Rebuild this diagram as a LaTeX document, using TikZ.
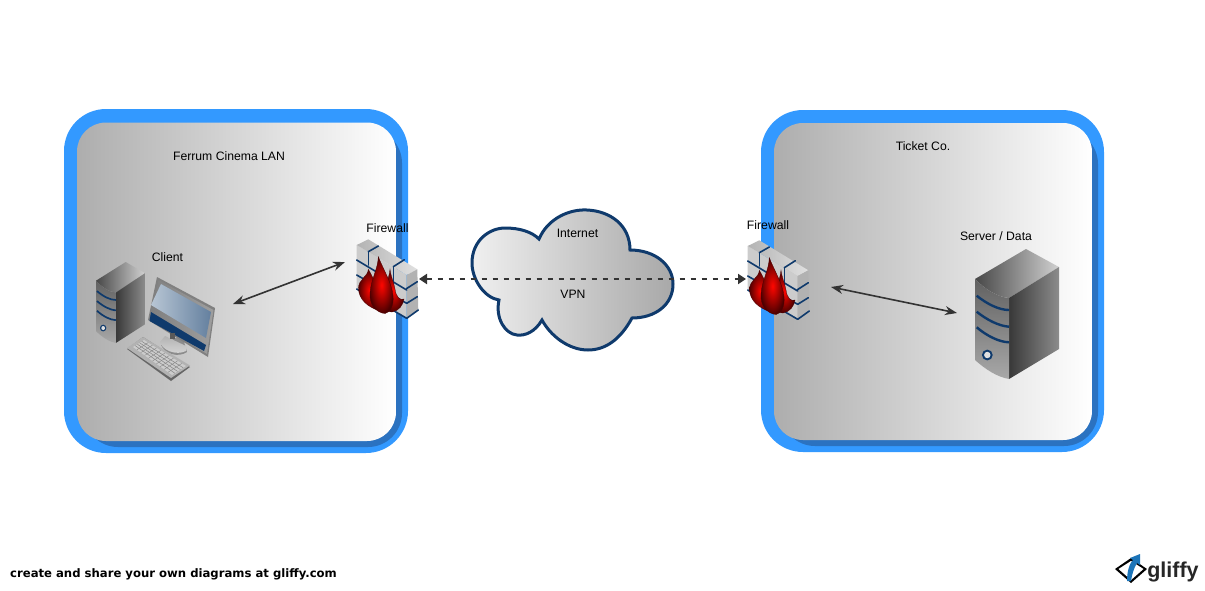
\documentclass[tikz,border=0pt]{standalone}
\usepackage{fontspec}
\setmainfont{Liberation Sans}
\newfontfamily\footfont{DejaVu Sans}
\usetikzlibrary{arrows.meta,calc}
\definecolor{lanblue}{HTML}{3399FF}
\definecolor{lanshadow}{HTML}{2B72C0}
\definecolor{navy}{HTML}{0F3A6C}
\definecolor{arrowgrey}{HTML}{333333}
\definecolor{screenlight}{HTML}{B8C6D4}
\definecolor{screendark}{HTML}{64809F}
\definecolor{logoblue}{HTML}{1C74B8}
\tikzset{
  x=1pt,y=-1pt,
  label text/.style={font=\fontsize{12.2}{14}\selectfont,text=black,inner sep=0pt},
  iconbox/.style={inner sep=0pt,outer sep=0pt,draw=none,fill=none},
  link/.style={draw=arrowgrey,line width=1.6pt,{Stealth[length=12pt,width=9pt]}-{Stealth[length=12pt,width=9pt]}},
  vpnlink/.style={draw=arrowgrey,line width=2pt,dash pattern=on 5pt off 6pt,{Triangle[length=8pt,width=10pt]}-{Triangle[length=8pt,width=10pt]}},
  panelouter/.style={fill=lanblue,rounded corners=42pt},
  panelshadow/.style={fill=lanshadow,rounded corners=34pt},
  panelinner/.style={left color=black!32,right color=white,rounded corners=29pt},
  srvstripe/.style={draw=navy,line width=2.4pt},
  brick/.style={draw=navy,line width=1.6pt,line cap=round},
  flame/.style={shading=radial,inner color=red!95!orange,outer color=red!30!black,draw=red!30!black,line width=.3pt},
  server/.pic={
    \shade[left color=black!72,right color=black!18]
      (0,30) -- (51,0) -- (84,18) -- (34,49) .. controls (22,48) and (10,40) .. cycle;
    \shade[left color=black!78,right color=black!45]
      (34,49) -- (84,18) -- (84,100) -- (34,130) -- cycle;
    \shade[top color=black!62,middle color=black!24,bottom color=black!34]
      (0,30) .. controls (10,40) and (22,48) .. (34,49) -- (34,130)
      .. controls (22,128) and (10,120) .. (0,111) -- cycle;
    \draw[srvstripe] (1.7,46.7) .. controls (12,55) and (24,61) .. (34,61);
    \draw[srvstripe] (1.7,62.7) .. controls (12,71) and (24,77) .. (34,77.7);
    \draw[srvstripe] (1.7,78.3) .. controls (12,87) and (24,93) .. (34,93.3);
    \fill[navy] (12.3,106) circle[x radius=5.4,y radius=5.4];
    \fill[black!12] (12.3,106) circle[x radius=3.2,y radius=3.2];
  },
  firewall/.pic={
    \fill[black!20] (-0.3,6) -- (49.7,36) -- (49.7,79.3) -- (-0.3,49.3) -- cycle;
    \shade[left color=black!30,right color=black!12] (-0.3,6) -- (11.3,0.3) -- (60.3,30.3) -- (49.7,36) -- cycle;
    \fill[black!30] (49.7,36) -- (60.3,30.3) -- (61.3,71) -- (49.7,79.3) -- cycle;
    \draw[brick] (-0.3,21) -- (49.7,51);
    \draw[brick] (-0.3,36) -- (49.7,64.3);
    \draw[brick] (-0.3,50) -- (49.7,79.3);
    \draw[brick] (49.7,49.5) -- (60.3,42.7);
    \draw[brick] (49.7,64.3) -- (60.3,57.7);
    \draw[brick] (49.7,79.3) -- (61.3,71);
    \draw[brick] (11.3,12.7) -- (21.3,7);
    \draw[brick] (11.3,12.7) -- (11.3,26);
    \draw[brick] (36.3,27.7) -- (47.3,20.7);
    \draw[brick] (36.3,27.7) -- (36.3,44);
    % flames
    \shade[flame] (11.3,30.3) .. controls (11,38) and (1,40) .. (1.5,50)
      .. controls (2,60) and (10,68) .. (23,72) .. controls (24,60) and (20,45) .. cycle;
    \shade[flame] (33,30.3) .. controls (32,40) and (28,46) .. (27,56)
      .. controls (26,66) and (28,73) .. (35,73) .. controls (42,72) and (46,66) .. (47,60)
      .. controls (43,62) and (39,58) .. (38,50) .. controls (37,44) and (34,38) .. cycle;
    \shade[flame] (21.3,17.7) .. controls (21,30) and (14,40) .. (13,54)
      .. controls (12,66) and (20,74) .. (28,74.5) .. controls (33,74) and (37,66) .. (36,57)
      .. controls (35,44) and (26,30) .. cycle;
  }
}
\begin{document}
\begin{tikzpicture}
\useasboundingbox (0,0) rectangle (1205,590);
\fill[white] (0,0) rectangle (1205,590);

% ---- panels
\fill[panelouter] (64,109) rectangle (408,453);
\fill[panelshadow] (84,129) rectangle (402,447);
\shade[panelinner] (77,122.5) rectangle (396,441);
\fill[panelouter] (761,110) rectangle (1104,452);
\fill[panelshadow] (781,130) rectangle (1098,446);
\shade[panelinner] (774,123) rectangle (1092,440);

% ---- cloud
\node[iconbox,minimum width=202pt,minimum height=141pt] (cloud) at (573,280) {};
\shadedraw[draw=navy,line width=3pt,left color=black!6,right color=black!34]
  (539,239) .. controls (548,218) and (570,209) .. (587,210)
  .. controls (610,211) and (630,225) .. (630,250)
  .. controls (655,250) and (673,265) .. (673,284)
  .. controls (673,305) and (655,318) .. (632,318)
  .. controls (620,340) and (605,350) .. (588,350)
  .. controls (568,350) and (550,335) .. (542,320)
  .. controls (535,332) and (525,336) .. (517,335)
  .. controls (505,334) and (495,318) .. (499,300)
  .. controls (485,298) and (472,280) .. (472,263)
  .. controls (472,240) and (490,228) .. (505,228)
  .. controls (520,228) and (532,232) .. cycle;

% ---- client computer
\node[iconbox,minimum width=120pt,minimum height=117pt] (client) at (156,320.5) {};
\pic[xscale=.583,yscale=.623,srvstripe/.append style={line width=1.7pt}] at (96,262) {server};
\fill[black!45] (161,345) -- (182,335) -- (187,352) .. controls (178,358) and (165,354) .. (161,345) -- cycle;
\shade[top color=black!30,bottom color=black!15] (160,342) .. controls (162,350) and (176,356) .. (186,351) -- (186,346) -- (165,336) -- cycle;
\fill[black!50] (157,277) -- (215,308) -- (208,357) -- (148,320) -- cycle;
\shade[left color=black!50,right color=black!38] (158.5,280) -- (213.5,310) -- (207,354) -- (150,319) -- cycle;
\shade[left color=screenlight,right color=screendark]
  (161,284) -- (211,312) -- (206,338) -- (151,305) -- cycle;
\fill[navy] (149.5,321) -- (151,312) -- (206,345) -- (204,351) -- cycle;
\fill[black!65] (170,333) rectangle (175,339);
\fill[black!60] (127,349) -- (171,381) -- (190,367) -- (143,337) -- cycle;
\fill[black!30] (127,348) -- (143,337) -- (190,365.5) -- (171,378) -- cycle;
\coordinate (kA) at (133,347);
\coordinate (kB) at (144,340);
\coordinate (kC) at (186,366);
\coordinate (kD) at (172,375);
\fill[black!20] (kA) -- (kB) -- (kC) -- (kD) -- cycle;
\foreach \t in {.2,.4,.6,.8}{\draw[black!48,line width=.5pt] ($(kA)!\t!(kB)$) -- ($(kD)!\t!(kC)$);}
\foreach \t in {.1,.2,.3,.4,.5,.6,.7,.8,.9}{\draw[black!48,line width=.4pt] ($(kA)!\t!(kD)$) -- ($(kB)!\t!(kC)$);}

% ---- server
\node[iconbox,minimum width=84pt,minimum height=130pt] (dataserver) at (1017,314) {};
\pic at (975,249) {server};

% ---- firewalls
\node[iconbox,minimum width=61pt,minimum height=79pt] (fwA) at (387.5,279) {};
\pic at (357,239) {firewall};
\node[iconbox,minimum width=62pt,minimum height=79pt] (fwB) at (778,279) {};
\pic at (748,240) {firewall};

% ---- connectors
\coordinate (clientPort) at (233,304);
\coordinate (fwAin) at (345,262);
\coordinate (fwBin) at (831,287);
\coordinate (serverPort) at (957,313);
\draw[link] (clientPort) -- (fwAin);
\draw[link] (fwBin) -- (serverPort);
\draw[vpnlink,shorten <=1pt,shorten >=1pt] (fwA.east) -- (fwB.west);

% ---- labels
\node[label text] (lanlabel) at (229,156) {Ferrum Cinema LAN};
\node[label text] (ticketlabel) at (923,146) {Ticket Co.};
\node[label text] (clientlabel) at (167.5,257.5) {Client};
\node[label text] (fwAlabel) at (387.5,228) {Firewall};
\node[label text] (fwBlabel) at (768,225.5) {Firewall};
\node[label text] (serverlabel) at (996,236) {Server / Data};
\node[label text] (internetlabel) at (577.5,233.5) {Internet};
\node[label text] (vpnlabel) at (573,294) {VPN};

% ---- footer
\node[anchor=west,inner sep=0pt,font=\footfont\bfseries\fontsize{11.65}{13}\selectfont] (footer) at (10,574) {create and share your own diagrams at gliffy.com};
\fill[black] (1115,569) -- (1131,558) -- (1147,569) -- (1131,583) -- cycle;
\fill[white] (1118.5,569) -- (1131,561) -- (1143.5,569) -- (1131,580) -- cycle;
\fill[logoblue] (1127,581) .. controls (1127,570) and (1130,563) .. (1133,560)
  -- (1130,558) -- (1140,554) -- (1140,565) -- (1137,563)
  .. controls (1134,568) and (1132,574) .. (1131,581) -- cycle;
\node[inner sep=0pt,font=\bfseries\fontsize{21.5}{24}\selectfont,text=black!85] (gliffylogo) at (1173,572) {gliffy};
\end{tikzpicture}
\end{document}
